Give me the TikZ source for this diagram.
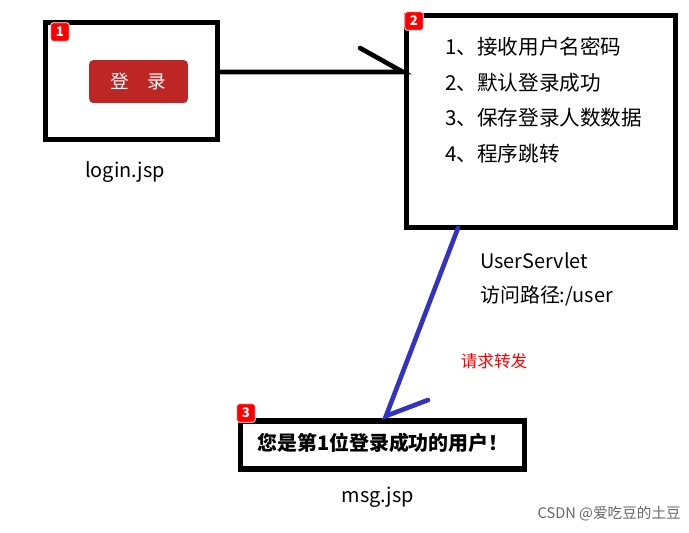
\documentclass[tikz,border=0pt]{standalone}
\usepackage{fontspec}
\setmainfont{Noto Sans CJK SC}
\begin{document}
\begin{tikzpicture}[x=0.0264583cm,y=-0.0264583cm,
  box/.style={draw=black,line width=4pt},
  badge/.style={fill=red,draw=white,line width=0.6pt,rounded corners=2pt,minimum size=14pt,inner sep=0pt,text=white,font=\bfseries\fontsize{10}{10}\selectfont},
  lbl/.style={font=\fontsize{15}{17}\selectfont,inner sep=0pt},
  con/.style={line width=3.5pt,line cap=round}]
\useasboundingbox (0,0) rectangle (689,532);
\node[box,minimum width=173pt*0.75,minimum height=118pt*0.75] (b1) at (131.5,81) {};
\node[fill=red!70!black!85,rounded corners=3pt,minimum width=99pt*0.75,minimum height=43pt*0.75,text=white,font=\fontsize{14}{14}\selectfont] (btn) at (138.5,81.5) {登\quad 录};
\node[badge] (n1) at (60,32) {1};
\node[lbl] (l1) at (125,172) {login.jsp};
\node[box,minimum width=270pt*0.75,minimum height=213pt*0.75] (b2) at (541,121.5) {};
\node[badge] (n2) at (414,21) {2};
\node[lbl,font=\fontsize{15.5}{17}\selectfont,anchor=west] (t1) at (445,47) {1、接收用户名密码};
\node[lbl,font=\fontsize{15.5}{17}\selectfont,anchor=west] (t2) at (445,83) {2、默认登录成功};
\node[lbl,font=\fontsize{15.5}{17}\selectfont,anchor=west] (t3) at (445,118) {3、保存登录人数数据};
\node[lbl,font=\fontsize{15.5}{17}\selectfont,anchor=west] (t4) at (445,154) {4、程序跳转};
\node[lbl,anchor=west] (u1) at (480,261) {UserServlet};
\node[lbl,anchor=west] (u2) at (480,296) {访问路径:/user};
\node[box,minimum width=285pt*0.75,minimum height=48pt*0.75] (b3) at (382.5,445) {};
\node[badge] (n3) at (246,413) {3};
\node[font=\bfseries\fontsize{15}{17}\selectfont,inner sep=0pt] (m) at (383,443) {您是第1位登录成功的用户！};
\node[lbl] (l3) at (378,497) {msg.jsp};
\node[text=red,font=\fontsize{12.5}{14}\selectfont,inner sep=0pt] (fw) at (494,361) {请求转发};
\node[text=gray!80!black,font=\fontsize{11}{12}\selectfont,anchor=east,inner sep=0pt] (wm) at (681,514) {CSDN @爱吃豆的土豆};
\coordinate (h1) at (360,48);
\coordinate (h2) at (428,400);
\draw[con] (b1.east |- 0,72) coordinate (s1) -- (403,72) coordinate (e1) -- (h1);
\draw[con,blue!70!black!80] (458,228) coordinate (s2) -- (386,416) coordinate (e2) -- (h2);
\end{tikzpicture}
\end{document}
